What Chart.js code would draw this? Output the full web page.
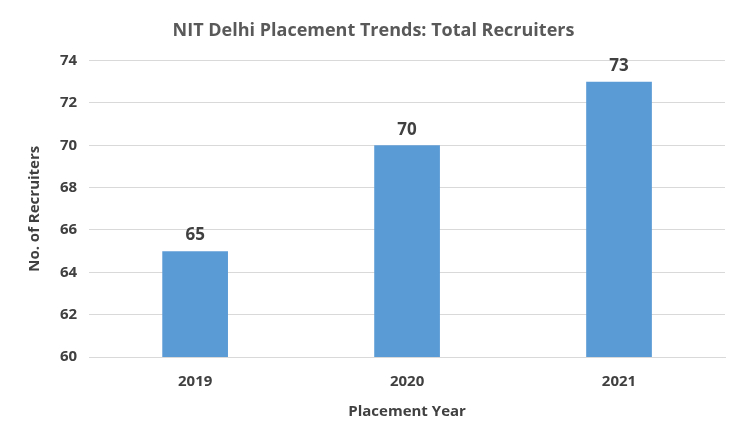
<!DOCTYPE html>
<html>
<head>
<meta charset="utf-8">
<script src="https://cdn.jsdelivr.net/npm/chart.js@4"></script>
<style>
  body { margin: 0; background: #fff; }
  #wrap { width: 745px; height: 441px; }
</style>
</head>
<body>
<div id="wrap"><canvas id="myChart"></canvas></div>
<script>
const years = ['2019', '2020', '2021'];
const recruiters = [65, 70, 73];
const yTicks = [60, 62, 64, 66, 68, 70, 72, 74];

// draw value above each bar
const barLabels = {
    id: 'barLabels',
    afterDatasetsDraw(chart) {
        const ctx = chart.ctx;
        const meta = chart.getDatasetMeta(0);
        ctx.save();
        ctx.font = 'bold 17px "Open Sans", sans-serif';
        ctx.fillStyle = '#404040';
        ctx.textAlign = 'center';
        ctx.textBaseline = 'bottom';
        meta.data.forEach(function(bar, i) {
            ctx.fillText(recruiters[i], bar.x, bar.y - 7);
        });
        ctx.restore();
    }
};

const ctx = document.getElementById('myChart').getContext('2d');
const myChart = new Chart(ctx, {
    type: 'bar',
    data: {
        labels: years,
        datasets: [{
            label: 'Total Recruiters',
            data: recruiters,
            backgroundColor: '#5b9bd5',
            borderWidth: 0,
            barPercentage: 0.31,
            categoryPercentage: 1
        }]
    },
    options: {
        responsive: true,
        maintainAspectRatio: false,
        animation: false,
        layout: { padding: { left: 22, right: 20, top: 0, bottom: 16 } },
        plugins: {
            legend: { display: false },
            tooltip: { enabled: false },
            title: {
                display: true,
                text: 'NIT Delhi Placement Trends: Total Recruiters',
                color: '#595959',
                font: { size: 18, weight: 'bold', family: '"Open Sans", sans-serif' },
                padding: { top: 20, bottom: 19 }
            }
        },
        scales: {
            x: {
                grid: { display: false },
                border: { color: '#d9d9d9' },
                ticks: { color: '#404040', font: { size: 15, weight: 'bold', family: '"Open Sans", sans-serif' }, padding: 8 },
                title: {
                    display: true, text: 'Placement Year', color: '#404040',
                    font: { size: 15, weight: 'bold', family: '"Open Sans", sans-serif' }
                }
            },
            y: {
                min: 60, max: 74,
                afterBuildTicks(axis) { axis.ticks = yTicks.map(v => ({ value: v })); },
                grid: { color: '#d9d9d9', drawTicks: false },
                border: { display: false },
                ticks: { color: '#404040', font: { size: 15, weight: 'bold', family: '"Open Sans", sans-serif' }, padding: 12 },
                title: {
                    display: true, text: 'No. of Recruiters', color: '#404040',
                    font: { size: 15, weight: 'bold', family: '"Open Sans", sans-serif' }
                }
            }
        }
    },
    plugins: [barLabels]
});
</script>
</body>
</html>
